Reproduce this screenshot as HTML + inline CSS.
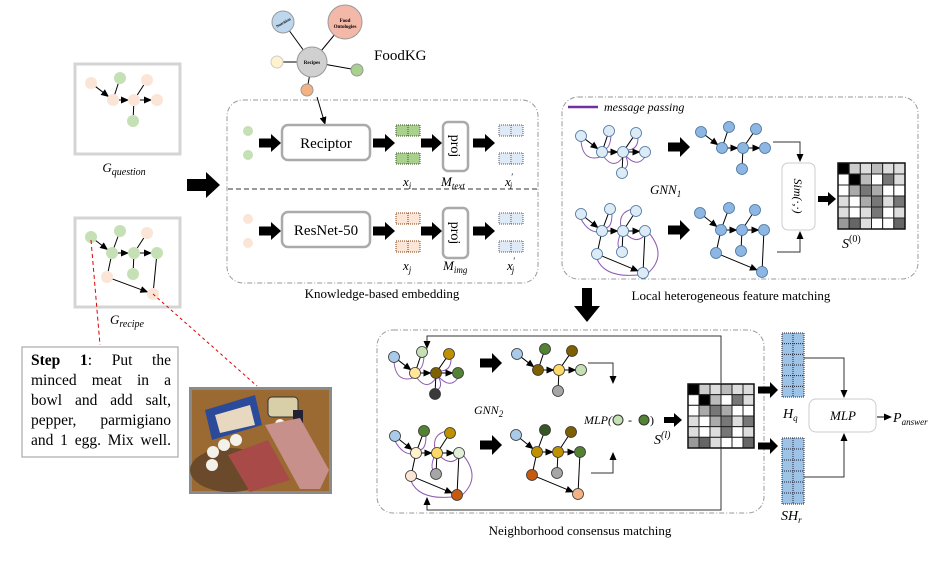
<!DOCTYPE html>
<html><head><meta charset="utf-8"><style>
html,body{margin:0;padding:0;background:#fff;}
svg{display:block;}
text{font-family:"Liberation Serif",serif;}
.it{font-style:italic;}
#step{position:absolute;left:31px;top:351px;width:140px;font-family:"Liberation Serif",serif;font-size:15.5px;line-height:20px;text-align:justify;text-align-last:justify;color:#000;}
</style></head><body>
<div style="position:relative;width:952px;height:576px;">
<svg id="s" width="952" height="576" viewBox="0 0 952 576" xmlns="http://www.w3.org/2000/svg">
<defs>
<marker id="ah" markerWidth="8" markerHeight="8" refX="7" refY="4" orient="auto" markerUnits="userSpaceOnUse"><path d="M0,0.5 L8,4 L0,7.5 z" fill="#000"/></marker>
</defs>
<rect width="952" height="576" fill="#fff"/>
<rect x="75" y="64" width="105" height="90" fill="#fff" stroke="#d4d4d4" stroke-width="3"/>
<rect x="75" y="218" width="105" height="89" fill="#fff" stroke="#d4d4d4" stroke-width="3"/>
<rect x="227" y="100" width="311" height="183" rx="16" fill="none" stroke="#999" stroke-dasharray="5,2,1,2"/>
<line x1="228" y1="189" x2="537" y2="189" stroke="#333" stroke-dasharray="5,3"/>
<rect x="562" y="97" width="356" height="182" rx="16" fill="none" stroke="#999" stroke-dasharray="5,2,1,2"/>
<rect x="377" y="330" width="387" height="183" rx="16" fill="none" stroke="#999" stroke-dasharray="5,2,1,2"/>
<g id="dyn"></g>
<text x="124" y="172" font-size="13" text-anchor="middle" class="it">G<tspan font-size="10" dy="3">question</tspan></text>
<text x="127" y="324" font-size="13" text-anchor="middle" class="it">G<tspan font-size="10" dy="3">recipe</tspan></text>
<text x="374" y="60" font-size="15">FoodKG</text>
<text x="345" y="22" font-size="5" font-weight="bold" text-anchor="middle">Food</text>
<text x="345" y="28" font-size="5" font-weight="bold" text-anchor="middle">Ontologies</text>
<text x="312" y="64" font-size="5" font-weight="bold" text-anchor="middle">Recipes</text>
<text x="283" y="24" font-size="4" font-weight="bold" text-anchor="middle" transform="rotate(-30 283 22)">Nutrition</text>
<text x="326" y="148" font-size="15" text-anchor="middle">Reciptor</text>
<text x="326" y="235" font-size="15" text-anchor="middle">ResNet-50</text>
<text x="455" y="146" font-size="14" text-anchor="middle" transform="rotate(90 455 146)" dy="4">proj</text>
<text x="455" y="233" font-size="14" text-anchor="middle" transform="rotate(90 455 233)" dy="4">proj</text>
<text x="403" y="186" font-size="13" class="it">x<tspan font-size="9" dy="3">i</tspan></text>
<text x="441" y="186" font-size="13" class="it">M<tspan font-size="9" dy="3">text</tspan></text>
<text x="505" y="186" font-size="13" class="it">x<tspan font-size="9" dy="-6">′</tspan><tspan font-size="9" dx="-3" dy="9">i</tspan></text>
<text x="403" y="270" font-size="13" class="it">x<tspan font-size="9" dy="3">j</tspan></text>
<text x="443" y="270" font-size="13" class="it">M<tspan font-size="9" dy="3">img</tspan></text>
<text x="507" y="270" font-size="13" class="it">x<tspan font-size="9" dy="-6">′</tspan><tspan font-size="9" dx="-3" dy="9">j</tspan></text>
<text x="382" y="298" font-size="13" text-anchor="middle">Knowledge-based embedding</text>
<text x="604" y="111" font-size="12" class="it">message passing</text>
<text x="650" y="194" font-size="13" class="it">GNN<tspan font-size="9" dy="3">1</tspan></text>
<text x="798" y="196" font-size="12" class="it" text-anchor="middle" transform="rotate(90 798 196)" dy="4">Sim(·,·)</text>
<text x="842" y="248" font-size="14" class="it">S<tspan font-size="10" dy="-6" font-style="normal">(0)</tspan></text>
<text x="731" y="300" font-size="13" text-anchor="middle">Local heterogeneous feature matching</text>
<text x="474" y="414" font-size="12" class="it">GNN<tspan font-size="9" dy="3">2</tspan></text>
<text x="584" y="424" font-size="12" class="it">MLP(</text>
<text x="628" y="424" font-size="12">-</text>
<text x="650" y="424" font-size="12">)</text>
<text x="654" y="444" font-size="14" class="it">S<tspan font-size="10" dy="-6">(l)</tspan></text>
<text x="783" y="418" font-size="14" class="it">H<tspan font-size="9" dy="3">q</tspan></text>
<text x="781" y="520" font-size="14" class="it">SH<tspan font-size="9" dy="3">r</tspan></text>
<text x="843" y="420" font-size="13" class="it" text-anchor="middle">MLP</text>
<text x="893" y="422" font-size="14" class="it">P<tspan font-size="9" dy="3">answer</tspan></text>
<text x="580" y="535" font-size="13" text-anchor="middle">Neighborhood consensus matching</text>
<rect x="22" y="347" width="156" height="110" fill="#fff" stroke="#999"/>
</svg>
<div id="step"><b>Step 1</b>: Put the minced meat in a bowl and add salt, pepper, parmigiano and 1 egg. Mix well.</div>
</div>
<script>
(function(){
var o='';
function C(x,y,r,f,s,w){o+='<circle cx="'+x+'" cy="'+y+'" r="'+r+'" fill="'+f+'" stroke="'+(s||'none')+'" stroke-width="'+(w||1)+'"/>';}
function L(x1,y1,x2,y2,a,c,w,d){o+='<line x1="'+x1+'" y1="'+y1+'" x2="'+x2+'" y2="'+y2+'" stroke="'+(c||'#000')+'" stroke-width="'+(w||1)+'"'+(a?' marker-end="url(#ah)"':'')+(d?' stroke-dasharray="'+d+'"':'')+'/>';}
function P(d,c,w,a){o+='<path d="'+d+'" fill="none" stroke="'+(c||'#000')+'" stroke-width="'+(w||1)+'"'+(a?' marker-end="url(#ah)"':'')+'/>';}
function R(x,y,w,h,f,s,extra){o+='<rect x="'+x+'" y="'+y+'" width="'+w+'" height="'+h+'" fill="'+f+'" stroke="'+(s||'none')+'" '+(extra||'')+'/>';}
function fat(x1,x2,y,sh,hh,hl){sh=sh||9;hh=hh||18;hl=hl||10;var xm=x2-hl;
o+='<polygon points="'+x1+','+(y-sh/2)+' '+xm+','+(y-sh/2)+' '+xm+','+(y-hh/2)+' '+x2+','+y+' '+xm+','+(y+hh/2)+' '+xm+','+(y+sh/2)+' '+x1+','+(y+sh/2)+'" fill="#000"/>';}
function sh(a,b,r){var dx=b[0]-a[0],dy=b[1]-a[1],l=Math.sqrt(dx*dx+dy*dy);return [a[0]+dx*r/l,a[1]+dy*r/l,b[0]-dx*r/l,b[1]-dy*r/l];}
function graph(nodes,edges,cols,r,stroke){
 edges.forEach(function(e){var s=sh(nodes[e[0]],nodes[e[1]],r);L(s[0],s[1],s[2],s[3],e[2]);});
 nodes.forEach(function(n,i){C(n[0],n[1],r,cols[i],stroke,0.8);});}
function tr(ns,dx,dy){return ns.map(function(n){return [n[0]+dx,n[1]+dy];});}
var gq=[[91,83],[120,78],[147,80],[113,100],[134,100],[157,100],[133,121]];
var pe='#fbe5d6',gr='#c5e0b4';
graph(gq,[[0,3,1],[1,3],[3,4,1],[2,4],[4,5,1],[4,6]],[pe,gr,pe,pe,pe,pe,gr],6,'none');
var grn=[[91,237],[120,231],[147,233],[112,253],[134,253],[157,253],[133,274],[107,277],[153,294]];
graph(grn,[[0,3,1],[1,3],[3,4,1],[2,4],[4,5,1],[4,6],[3,7],[7,8,1],[5,8]],[gr,gr,pe,gr,gr,gr,gr,pe,pe],6,'none');
L(91,240,100,345,0,'#d00',1,'4,3');
L(153,294,257,386,0,'#d00',1,'3,3');
fat(187,220,185,12,26,14);
L(312,62,283,22);L(312,62,345,22);L(312,62,277,62);L(312,62,357,70);L(312,62,307,90);
C(283,22,11,'#bdd7ee','#999');C(345,22,17,'#f4b8a8','#999');C(312,62,15,'#d0d0d0','#999');
C(277,62,6,'#fff2cc','#ccc');C(357,70,6,'#a9d18e','#999');C(307,90,6,'#f4b183','#999');
L(317,97,325,124,1);
function row(y,dc,vc,vs){
 C(248,y-12,5,dc);C(248,y+12,5,dc);
 fat(259,281,y);
 fat(373,395,y);fat(421,442,y);fat(473,495,y);
 function vec(x,yy,f,s){R(x,yy,24,11,f,s,'stroke-dasharray="1,1"');L(x+12,yy,x+12,yy+11,0,s,1,'1,1');}
 vec(396,y-18,vc,vs);vec(396,y+10,vc,vs);
 vec(499,y-18,'#deebf7','#556');vec(499,y+10,'#deebf7','#556');
}
R(282,125,88,35,'#fff','#aaa','rx="6" stroke-width="2.5"');
R(282,212,88,35,'#fff','#aaa','rx="6" stroke-width="2.5"');
R(443,122,25,49,'#fff','#aaa','rx="5" stroke-width="2.5"');
R(443,208,25,50,'#fff','#aaa','rx="5" stroke-width="2.5"');
row(143,'#c5e0b4','#a9d18e','#375623');
row(231,'#fbe5d6','#fbe5d6','#843c0c');
L(568,107,598,107,0,'#7030a0',2.5);
var G1=[[581,136],[609,131],[602,152],[623,152],[636,133],[645,152],[622,173]];
var E1=[[0,2,1],[1,2],[2,3,1],[4,3],[3,5,1],[3,6]];
var G2=[[581,214],[610,209],[602,231],[623,231],[636,211],[645,231],[622,252],[597,254],[643,273]];
var E2=[[0,2,1],[1,2],[2,3,1],[4,3],[3,5,1],[3,6],[2,7],[7,8,1],[5,8]];
var pu='#8e5bb0';
function purp1(dx,dy){P('M'+(581+dx)+','+(141+dy)+' Q'+(583+dx)+','+(162+dy)+' '+(600+dx)+','+(157+dy),pu);
 P('M'+(604+dx)+','+(157+dy)+' Q'+(614+dx)+','+(170+dy)+' '+(623+dx)+','+(157+dy),pu);
 P('M'+(626+dx)+','+(156+dy)+' Q'+(637+dx)+','+(168+dy)+' '+(645+dx)+','+(157+dy),pu);
 P('M'+(638+dx)+','+(138+dy)+' Q'+(638+dx)+','+(150+dy)+' '+(627+dx)+','+(150+dy),pu);
 P('M'+(626+dx)+','+(157+dy)+' Q'+(630+dx)+','+(166+dy)+' '+(624+dx)+','+(169+dy),pu);
 P('M'+(611+dx)+','+(136+dy)+' Q'+(610+dx)+','+(148+dy)+' '+(605+dx)+','+(149+dy),pu);}
function purp2(dx,dy){P('M'+(581+dx)+','+(219+dy)+' Q'+(588+dx)+','+(232+dy)+' '+(598+dx)+','+(232+dy),pu);
 P('M'+(612+dx)+','+(214+dy)+' Q'+(612+dx)+','+(228+dy)+' '+(605+dx)+','+(228+dy),pu);
 P('M'+(633+dx)+','+(209+dy)+' Q'+(618+dx)+','+(212+dy)+' '+(621+dx)+','+(227+dy),pu);
 P('M'+(626+dx)+','+(234+dy)+' Q'+(636+dx)+','+(244+dy)+' '+(644+dx)+','+(236+dy),pu);
 P('M'+(649+dx)+','+(233+dy)+' Q'+(668+dx)+','+(256+dy)+' '+(647+dx)+','+(274+dy),pu);
 P('M'+(597+dx)+','+(259+dy)+' Q'+(605+dx)+','+(278+dy)+' '+(638+dx)+','+(275+dy),pu);
 P('M'+(620+dx)+','+(235+dy)+' Q'+(616+dx)+','+(246+dy)+' '+(620+dx)+','+(249+dy),pu);}
purp1(0,0);purp2(0,0);
var lb='#ddebf7',mb='#8db7e2',bs='#41719c';
graph(G1,E1,[lb,lb,lb,lb,lb,lb,lb],5.5,bs);
graph(G2,E2,[lb,lb,lb,lb,lb,lb,lb,lb,lb],5.5,bs);
fat(668,690,147,9,20,10);fat(668,690,230,9,20,10);
graph(tr(G1,120,-4),E1,[mb,mb,mb,mb,mb,mb,mb],5.5,bs);
graph(tr(G2,119,-1),E2,[mb,mb,mb,mb,mb,mb,mb,mb,mb],5.5,bs);
P('M773,142 L800,142 L800,161','#333',1,1);
P('M777,252 L800,252 L800,232','#333',1,1);
R(782,163,33,67,'#fff','#ccc','rx="6"');
fat(818,836,199,6,14,8);
var M=[['#000','#ccc','#ddd','#bbb','#ddd','#ddd'],['#fff','#000','#bbb','#fff','#777','#ddd'],['#fff','#aaa','#777','#aaa','#fff','#fff'],['#ddd','#fff','#aaa','#777','#ddd','#777'],['#ddd','#fff','#ddd','#777','#fff','#ddd'],['#999','#666','#ddd','#fff','#fff','#666']];
function mat(x,y,w,h){var cw=w/6,ch=h/6;for(var i=0;i<6;i++)for(var j=0;j<6;j++)R(x+j*cw,y+i*ch,cw,ch,M[i][j],'#222','stroke-width="1"');R(x,y,w,h,'none','#111','stroke-width="1.5"');}
mat(838,163,67,66);
o+='<polygon points="582,288 592,288 592,306 600,306 587,322 574,306 582,306" fill="#000"/>';
purp1(-187,221);purp2(-186,222);
var lblue='#a9cbe9',lg='#c5e0b4',ye='#ffe699',br='#7f6000',go='#bf9000',gn='#548235',dk='#3a3a3a',gy='#a6a6a6';
graph(tr(G1,-187,221),E1,[lblue,lg,ye,br,go,gn,dk],5.5,'#333');
graph(tr(G2,-186,222),E2,[lblue,gn,'#fff2cc','#ffd966',go,'#e2f0d9',gy,'#fbe5d6','#c55a11'],5.5,'#333');
fat(480,502,363,9,20,10);fat(480,502,445,9,20,10);
graph(tr(G1,-64,218),E1,[lblue,gn,br,'#ffd966',br,lg,gy],5.5,'#333');
graph(tr(G2,-65,221),E2,[lblue,'#375623',go,go,br,gn,gy,'#c55a11','#f4b183'],5.5,'#333');
P('M588,363 L613,363 L613,383','#333',1,1);
P('M591,473 L613,473 L613,453','#333',1,1);
C(618,420,5,lg,'#333');C(644,420,5,gn,'#333');
fat(664,682,420,6,14,8);
mat(688,384,66,64);
P('M721,384 L721,336 L427,336 L427,348','#333',1,1);
P('M721,448 L721,510 L427,510 L427,498','#333',1,1);
fat(758,778,390,7,16,8);fat(758,778,446,7,16,8);
function col(x,y,h){R(x,y,22,h,'#9dc3e6','#223','stroke-dasharray="1,1"');L(x+11,y,x+11,y+h,0,'#223',1,'1,1');for(var i=1;i<6;i++)L(x,y+h*i/6,x+22,y+h*i/6,0,'#223',1,'1,1');}
col(782,333,64);col(782,438,66);
P('M804,358 L844,358 L844,397','#333',1,1);
P('M804,477 L844,477 L844,434','#333',1,1);
R(809,399,67,33,'#fff','#ccc','rx="7"');
L(877,417,891,417,1);
R(189,387,143,107,'#8a8a8a');
R(192,390,137,101,'#9a6a32');
o+='<ellipse cx="230" cy="470" rx="40" ry="22" fill="#6a4a2a"/>';
o+='<polygon points="205,410 255,395 262,425 212,440" fill="#2c4a9a"/>';
o+='<polygon points="215,415 250,405 255,425 220,433" fill="#e8d8c0"/>';
R(268,397,30,20,'#d8cfa8','#333','rx="4"');
R(293,410,10,18,'#223');
C(280,424,5,'#f4f4f4');
C(213,452,6,'#f2f2ea');C(224,445,6,'#f2f2ea');C(236,440,6,'#f2f2ea');C(212,465,6,'#f2f2ea');
o+='<polygon points="228,455 268,440 290,480 250,492" fill="#a84a48"/>';
o+='<polygon points="265,425 300,418 329,470 320,489 300,489" fill="#c8908a"/>';
document.getElementById('dyn').innerHTML=o;
})();
</script>
</body></html>
